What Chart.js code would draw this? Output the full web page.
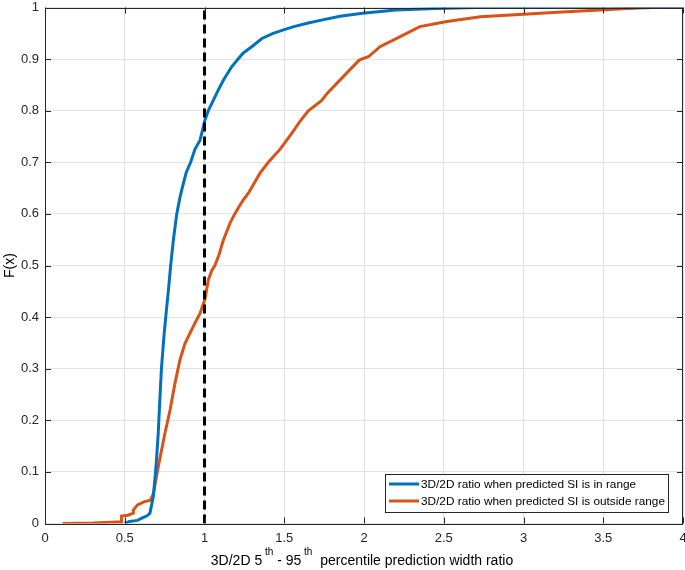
<!DOCTYPE html>
<html>
<head>
<meta charset="utf-8">
<script src="https://cdn.jsdelivr.net/npm/chart.js@4"></script>
<style>
html,body{margin:0;padding:0;background:#fff;}
#wrap{width:685px;height:570px;position:relative;}
</style>
</head>
<body>
<div id="wrap"><canvas id="c" width="685" height="570"></canvas></div>
<script>
// ---- data ----
const inRangeX = [0.50,0.53,0.58,0.61,0.64,0.658,0.679,0.696,0.71,0.72,0.73,0.745,0.757,0.773,0.788,0.805,0.826,0.845,0.857,0.885,0.913,0.94,0.972,1.003,1.024,1.055,1.086,1.12,1.17,1.24,1.30,1.36,1.43,1.50,1.56,1.65,1.74,1.85,1.99,2.2,2.45,2.7,4.0];
const inRangeY = [0.0,0.004,0.006,0.011,0.015,0.02,0.052,0.11,0.175,0.24,0.30,0.36,0.40,0.45,0.50,0.55,0.60,0.63,0.646,0.68,0.70,0.725,0.743,0.782,0.80,0.82,0.84,0.86,0.885,0.911,0.925,0.94,0.95,0.957,0.963,0.97,0.976,0.983,0.989,0.995,0.998,1.0,1.0];

const outRangeX = [0.11,0.30,0.45,0.48,0.48,0.52,0.554,0.554,0.58,0.62,0.66,0.68,0.71,0.752,0.784,0.815,0.846,0.878,0.909,0.951,0.972,1.003,1.024,1.045,1.065,1.09,1.118,1.16,1.19,1.218,1.243,1.275,1.348,1.40,1.473,1.547,1.60,1.651,1.735,1.77,1.87,1.97,2.03,2.10,2.23,2.35,2.52,2.73,3.0,3.27,3.48,3.65,3.81,4.0];
const outRangeY = [0.0,0.001,0.003,0.003,0.0145,0.016,0.02,0.026,0.036,0.042,0.045,0.058,0.11,0.175,0.22,0.272,0.317,0.349,0.369,0.395,0.407,0.435,0.472,0.49,0.50,0.52,0.549,0.582,0.60,0.615,0.627,0.64,0.679,0.70,0.725,0.756,0.78,0.80,0.82,0.834,0.866,0.898,0.905,0.924,0.944,0.963,0.973,0.982,0.987,0.992,0.995,0.998,1.0,1.0];

const refX = [1.0, 1.0];
const refY = [0.0, 1.0];

const xTicks = [0,0.5,1,1.5,2,2.5,3,3.5,4];
const yTicks = [0,0.1,0.2,0.3,0.4,0.5,0.6,0.7,0.8,0.9,1];

const seriesNames = ['3D/2D ratio when predicted SI is in range','3D/2D ratio when predicted SI is outside range'];
const yTitle = 'F(x)';

const toPts = (xs, ys) => xs.map((x, i) => ({x: x, y: ys[i]}));

const FONT = '"Liberation Sans", Arial, Helvetica, sans-serif';
const BLUE = '#0072BD', ORANGE = '#D95319';

const framePlugin = {
  id: 'frame',
  afterDraw(chart) {
    const ctx = chart.ctx;
    const a = chart.chartArea;
    const xs = chart.scales.x, ys = chart.scales.y;
    ctx.save();
    // box
    ctx.strokeStyle = '#262626';
    ctx.lineWidth = 1;
    ctx.beginPath();
    ctx.rect(Math.round(a.left) + 0.5, Math.round(a.top) + 0.5, Math.round(a.right - a.left) - 1, Math.round(a.bottom - a.top));
    ctx.stroke();
    // inward tick marks
    const tl = 6;
    ctx.beginPath();
    xTicks.forEach(v => {
      const px = Math.round(xs.getPixelForValue(v)) + 0.5;
      ctx.moveTo(px, a.bottom); ctx.lineTo(px, a.bottom - tl);
      ctx.moveTo(px, a.top); ctx.lineTo(px, a.top + tl);
    });
    yTicks.forEach(v => {
      const py = Math.round(ys.getPixelForValue(v)) + 0.5;
      ctx.moveTo(a.left, py); ctx.lineTo(a.left + tl, py);
      ctx.moveTo(a.right, py); ctx.lineTo(a.right - tl, py);
    });
    ctx.stroke();

    // legend box
    const lx = 385, ly = 474, lw = 283, lh = 38;
    ctx.fillStyle = '#fff';
    ctx.fillRect(lx, ly, lw, lh);
    ctx.strokeStyle = '#262626';
    ctx.strokeRect(lx + 0.5, ly + 0.5, lw, lh);
    ctx.font = '11.8px ' + FONT;
    ctx.textBaseline = 'middle';
    ctx.textAlign = 'left';
    const cols = [BLUE, ORANGE];
    [484, 501].forEach((yy, i) => {
      ctx.strokeStyle = cols[i];
      ctx.lineWidth = 3;
      ctx.beginPath(); ctx.moveTo(389, yy); ctx.lineTo(419, yy); ctx.stroke();
      ctx.fillStyle = '#000';
      ctx.fillText(seriesNames[i], 421, yy + 0.5);
    });

    // x title with superscripts
    const parts = [['3D/2D 5', false], [' th', true], [' - 95', false], [' th', true], ['  percentile prediction width ratio', false]];
    const mainF = '14px ' + FONT, supF = '10px ' + FONT;
    let total = 0;
    parts.forEach(p => { ctx.font = p[1] ? supF : mainF; total += ctx.measureText(p[0]).width; });
    let cx = (a.left + a.right) / 2 - total / 2 - 2;
    const base = 564.5;
    ctx.fillStyle = '#000';
    ctx.textBaseline = 'alphabetic';
    parts.forEach(p => {
      ctx.font = p[1] ? supF : mainF;
      ctx.fillText(p[0], cx, p[1] ? base - 10 : base);
      cx += ctx.measureText(p[0]).width;
    });

    // y title
    ctx.translate(14, (a.top + a.bottom) / 2);
    ctx.rotate(-Math.PI / 2);
    ctx.font = '14px ' + FONT;
    ctx.textAlign = 'center';
    ctx.textBaseline = 'alphabetic';
    ctx.fillText(yTitle, 0, 0);
    ctx.restore();
  }
};

new Chart(document.getElementById('c'), {
  type: 'scatter',
  data: {
    datasets: [
      { label: seriesNames[0], data: toPts(inRangeX, inRangeY), showLine: true, borderColor: BLUE, borderWidth: 3, pointRadius: 0, tension: 0, order: 2 },
      { label: seriesNames[1], data: toPts(outRangeX, outRangeY), showLine: true, borderColor: ORANGE, borderWidth: 3, pointRadius: 0, tension: 0, order: 3 },
      { label: 'ref', data: toPts(refX, refY), showLine: true, borderColor: '#000', borderWidth: 3, borderDash: [9, 5], pointRadius: 0, order: 1 }
    ]
  },
  options: {
    responsive: false,
    animation: false,
    devicePixelRatio: 1,
    layout: { padding: { top: 7.5, right: 2, left: 0, bottom: 0 } },
    plugins: { legend: { display: false }, tooltip: { enabled: false } },
    scales: {
      x: {
        type: 'linear', min: 0, max: 4,
        afterBuildTicks: s => { s.ticks = xTicks.map(v => ({ value: v })); },
        afterFit: s => { s.height = 46.5; s.paddingLeft = 0; s.paddingRight = 0; },
        ticks: { padding: 7, color: '#262626', font: { family: FONT, size: 13 }, maxRotation: 0, callback: v => String(v) },
        grid: { color: '#e3e3e3', lineWidth: 1, drawTicks: false },
        border: { display: false }
      },
      y: {
        type: 'linear', min: 0, max: 1,
        afterBuildTicks: s => { s.ticks = yTicks.map(v => ({ value: v })); },
        afterFit: s => { s.width = 45; s.paddingTop = 0; s.paddingBottom = 0; },
        ticks: { padding: 6, color: '#262626', font: { family: FONT, size: 13 }, callback: v => String(v) },
        grid: { color: '#e3e3e3', lineWidth: 1, drawTicks: false },
        border: { display: false }
      }
    }
  },
  plugins: [framePlugin]
});
</script>
</body>
</html>
